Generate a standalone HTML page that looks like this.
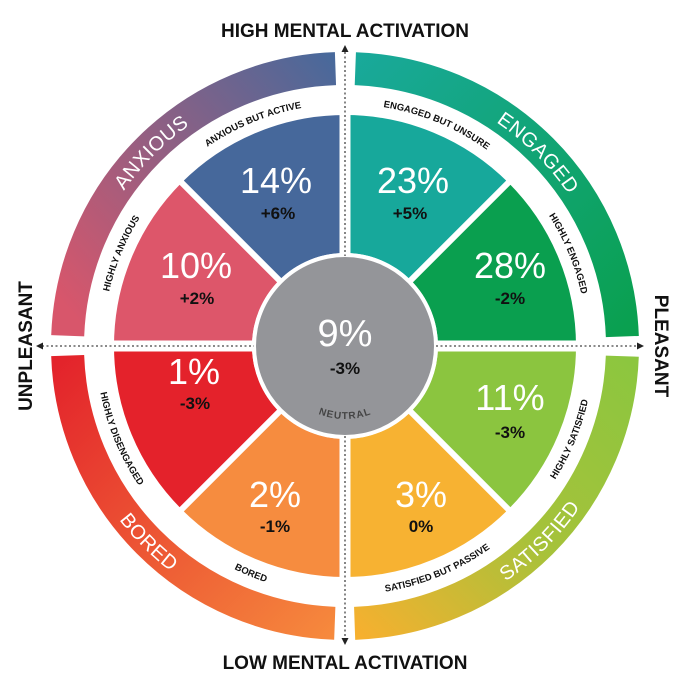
<!DOCTYPE html>
<html><head><meta charset="utf-8"><style>
html,body{margin:0;padding:0;background:#fff}
svg{display:block}
text{font-family:"Liberation Sans",sans-serif}
.pct{fill:#fff;font-size:36px;text-anchor:middle}
.chg{fill:#111;font-size:17px;font-weight:bold;text-anchor:middle}
.ring{fill:#fff;font-size:20px;letter-spacing:0.5px}
.sl{fill:#111;font-size:9.5px;font-weight:bold}
.ax{fill:#111;font-size:19px;font-weight:bold;text-anchor:middle}
</style></head><body>
<svg width="684" height="687" viewBox="0 0 684 687" xmlns="http://www.w3.org/2000/svg">
<defs>
<linearGradient id="gA" gradientUnits="userSpaceOnUse" x1="60" y1="300" x2="335" y2="60"><stop offset="0" stop-color="#d8566b"/><stop offset="1" stop-color="#48699b"/></linearGradient>
<linearGradient id="gE" gradientUnits="userSpaceOnUse" x1="355" y1="55" x2="630" y2="330"><stop offset="0" stop-color="#19a99b"/><stop offset="1" stop-color="#0aa04f"/></linearGradient>
<linearGradient id="gS" gradientUnits="userSpaceOnUse" x1="630" y1="360" x2="360" y2="635"><stop offset="0" stop-color="#8cc63f"/><stop offset="0.5" stop-color="#a6c23a"/><stop offset="1" stop-color="#f6b02f"/></linearGradient>
<linearGradient id="gB" gradientUnits="userSpaceOnUse" x1="60" y1="360" x2="335" y2="635"><stop offset="0" stop-color="#e3232b"/><stop offset="1" stop-color="#f68a3d"/></linearGradient>
<path id="rt" d="M75,346 A270,270 0 1 1 615,346 A270,270 0 1 1 75,346"/>
<path id="rb" d="M60,346 A285,285 0 1 0 630,346 A285,285 0 1 0 60,346"/>
<path id="st" d="M103,346 A242,242 0 1 1 587,346 A242,242 0 1 1 103,346"/>
<path id="sb" d="M96,346 A249,249 0 1 0 594,346 A249,249 0 1 0 96,346"/>
<path id="nb" d="M272,346 A73,73 0 1 0 418,346 A73,73 0 1 0 272,346"/>
</defs>
<!-- rings -->
<g fill="none" stroke-width="33">
<circle cx="345" cy="346" r="277.5" stroke="url(#gA)" stroke-dasharray="416 1327.6" stroke-dashoffset="-882"/>
<circle cx="345" cy="346" r="277.5" stroke="url(#gE)" stroke-dasharray="416 1327.6" stroke-dashoffset="-1317.9"/>
<circle cx="345" cy="346" r="277.5" stroke="url(#gS)" stroke-dasharray="416 1327.6" stroke-dashoffset="-10.2"/>
<circle cx="345" cy="346" r="277.5" stroke="url(#gB)" stroke-dasharray="416 1327.6" stroke-dashoffset="-446.1"/>
</g>
<!-- sectors -->
<g fill="none" stroke-width="138">
<circle cx="345" cy="346" r="162" stroke="#46689b" stroke-dasharray="127.2 2000" transform="rotate(225 345 346)"/>
<circle cx="345" cy="346" r="162" stroke="#dd566a" stroke-dasharray="127.2 2000" transform="rotate(180 345 346)"/>
<circle cx="345" cy="346" r="162" stroke="#17a89b" stroke-dasharray="127.2 2000" transform="rotate(270 345 346)"/>
<circle cx="345" cy="346" r="162" stroke="#0a9f4f" stroke-dasharray="127.2 2000" transform="rotate(315 345 346)"/>
<circle cx="345" cy="346" r="162" stroke="#8bc53f" stroke-dasharray="127.2 2000" transform="rotate(0 345 346)"/>
<circle cx="345" cy="346" r="162" stroke="#f7b232" stroke-dasharray="127.2 2000" transform="rotate(45 345 346)"/>
<circle cx="345" cy="346" r="162" stroke="#f68c3f" stroke-dasharray="127.2 2000" transform="rotate(90 345 346)"/>
<circle cx="345" cy="346" r="162" stroke="#e4222b" stroke-dasharray="127.2 2000" transform="rotate(135 345 346)"/>
</g>
<!-- white separators -->
<g stroke="#fff">
<line x1="345" y1="100" x2="345" y2="592" stroke-width="11"/>
<line x1="99" y1="346" x2="591" y2="346" stroke-width="11"/>
<line x1="170" y1="171" x2="520" y2="521" stroke-width="6"/>
<line x1="520" y1="171" x2="170" y2="521" stroke-width="6"/>
</g>
<circle cx="345" cy="346" r="93" fill="#fff"/>
<circle cx="345" cy="346" r="89" fill="#949599"/>
<!-- dotted axes -->
<g stroke="#444" stroke-width="1.3" stroke-dasharray="2 2.5" fill="none">
<line x1="345" y1="52" x2="345" y2="256"/>
<line x1="345" y1="436" x2="345" y2="638"/>
<line x1="42" y1="346" x2="254" y2="346"/>
<line x1="436" y1="346" x2="638" y2="346"/>
</g>
<g fill="#222">
<polygon points="345,45 341.5,52 348.5,52"/>
<polygon points="345,645 341.5,638 348.5,638"/>
<polygon points="36,346 43,342.5 43,349.5"/>
<polygon points="644,346 637,342.5 637,349.5"/>
</g>
<!-- ring labels -->
<text class="ring" text-anchor="middle"><textPath href="#rt" startOffset="12.5%">ANXIOUS</textPath></text>
<text class="ring" text-anchor="middle"><textPath href="#rt" startOffset="37.5%">ENGAGED</textPath></text>
<text class="ring" text-anchor="middle"><textPath href="#rb" startOffset="12.5%">BORED</textPath></text>
<text class="ring" text-anchor="middle"><textPath href="#rb" startOffset="37.5%">SATISFIED</textPath></text>
<!-- sector labels -->
<text class="sl" text-anchor="middle"><textPath href="#st" startOffset="18.75%">ANXIOUS BUT ACTIVE</textPath></text>
<text class="sl" text-anchor="middle"><textPath href="#st" startOffset="6.25%">HIGHLY ANXIOUS</textPath></text>
<text class="sl" text-anchor="middle"><textPath href="#st" startOffset="31.25%">ENGAGED BUT UNSURE</textPath></text>
<text class="sl" text-anchor="middle"><textPath href="#st" startOffset="43.75%">HIGHLY ENGAGED</textPath></text>
<text class="sl" text-anchor="middle"><textPath href="#sb" startOffset="6.25%">HIGHLY DISENGAGED</textPath></text>
<text class="sl" text-anchor="middle"><textPath href="#sb" startOffset="18.75%">BORED</textPath></text>
<text class="sl" text-anchor="middle"><textPath href="#sb" startOffset="31.25%">SATISFIED BUT PASSIVE</textPath></text>
<text class="sl" text-anchor="middle"><textPath href="#sb" startOffset="43.75%">HIGHLY SATISFIED</textPath></text>
<text style="fill:#444;font-size:10px;font-weight:bold;letter-spacing:1px" text-anchor="middle"><textPath href="#nb" startOffset="25%">NEUTRAL</textPath></text>
<!-- values -->
<text class="pct" x="276" y="193">14%</text><text class="chg" x="278" y="219">+6%</text>
<text class="pct" x="196" y="278">10%</text><text class="chg" x="197" y="304">+2%</text>
<text class="pct" x="413" y="193">23%</text><text class="chg" x="410" y="219">+5%</text>
<text class="pct" x="510" y="278">28%</text><text class="chg" x="510" y="304">-2%</text>
<text class="pct" x="345" y="346" style="font-size:38px">9%</text><text class="chg" x="345" y="374">-3%</text>
<text class="pct" x="194" y="384">1%</text><text class="chg" x="195" y="409">-3%</text>
<text class="pct" x="510" y="410">11%</text><text class="chg" x="510" y="438">-3%</text>
<text class="pct" x="421" y="507">3%</text><text class="chg" x="421" y="532">0%</text>
<text class="pct" x="275" y="507">2%</text><text class="chg" x="275" y="532">-1%</text>
<!-- axis labels -->
<text class="ax" x="345" y="37">HIGH MENTAL ACTIVATION</text>
<text class="ax" x="345" y="669">LOW MENTAL ACTIVATION</text>
<text class="ax" transform="translate(32 346) rotate(-90)">UNPLEASANT</text>
<text class="ax" transform="translate(655 346) rotate(90)">PLEASANT</text>
</svg>
</body></html>
